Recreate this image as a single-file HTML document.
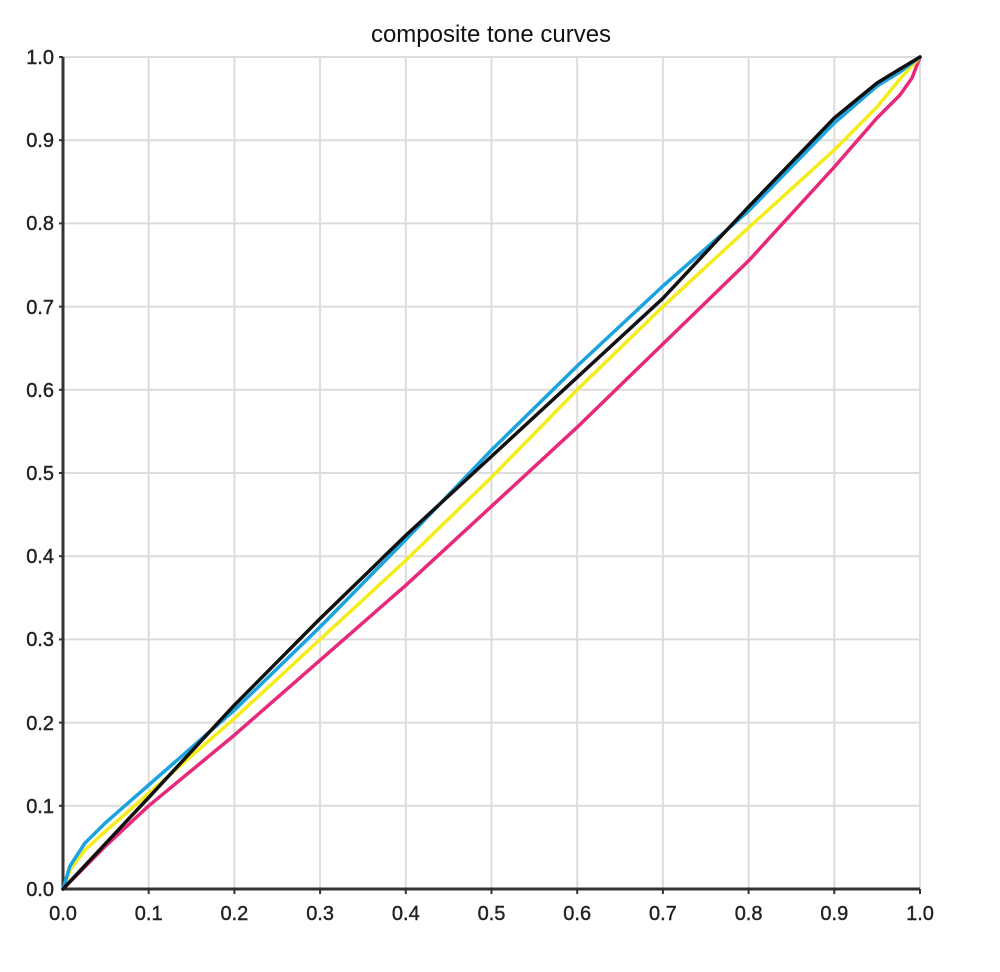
<!DOCTYPE html>
<html><head><meta charset="utf-8"><style>
html,body{margin:0;padding:0;background:#fff;}
svg{display:block;font-family:"Liberation Sans",Arial,sans-serif;}
</style></head><body>
<svg width="1000" height="972" viewBox="0 0 1000 972">
<rect width="1000" height="972" fill="#fff"/>
<text x="491" y="42" font-size="24" text-anchor="middle" fill="#111">composite tone curves</text>
<g stroke="#dcdcdc" stroke-width="2">
<line x1="148.7" y1="57" x2="148.7" y2="889"/><line x1="234.4" y1="57" x2="234.4" y2="889"/>
<line x1="320.1" y1="57" x2="320.1" y2="889"/><line x1="405.8" y1="57" x2="405.8" y2="889"/>
<line x1="491.5" y1="57" x2="491.5" y2="889"/><line x1="577.2" y1="57" x2="577.2" y2="889"/>
<line x1="662.9" y1="57" x2="662.9" y2="889"/><line x1="748.6" y1="57" x2="748.6" y2="889"/>
<line x1="834.3" y1="57" x2="834.3" y2="889"/><line x1="920" y1="57" x2="920" y2="889"/>
<line x1="63" y1="57" x2="920" y2="57"/><line x1="63" y1="140.2" x2="920" y2="140.2"/>
<line x1="63" y1="223.4" x2="920" y2="223.4"/><line x1="63" y1="306.6" x2="920" y2="306.6"/>
<line x1="63" y1="389.8" x2="920" y2="389.8"/><line x1="63" y1="473" x2="920" y2="473"/>
<line x1="63" y1="556.2" x2="920" y2="556.2"/><line x1="63" y1="639.4" x2="920" y2="639.4"/>
<line x1="63" y1="722.6" x2="920" y2="722.6"/><line x1="63" y1="805.8" x2="920" y2="805.8"/>
</g>
<g stroke="#333" stroke-width="3">
<line x1="63" y1="57" x2="63" y2="890"/><line x1="62" y1="889" x2="920" y2="889"/>
</g>
<g stroke="#333" stroke-width="2">
<line x1="59" y1="57" x2="63" y2="57"/><line x1="59" y1="140.2" x2="63" y2="140.2"/><line x1="59" y1="223.4" x2="63" y2="223.4"/><line x1="59" y1="306.6" x2="63" y2="306.6"/><line x1="59" y1="389.8" x2="63" y2="389.8"/><line x1="59" y1="473" x2="63" y2="473"/><line x1="59" y1="556.2" x2="63" y2="556.2"/><line x1="59" y1="639.4" x2="63" y2="639.4"/><line x1="59" y1="722.6" x2="63" y2="722.6"/><line x1="59" y1="805.8" x2="63" y2="805.8"/>
<line x1="148.7" y1="889" x2="148.7" y2="894"/><line x1="234.4" y1="889" x2="234.4" y2="894"/><line x1="320.1" y1="889" x2="320.1" y2="894"/><line x1="405.8" y1="889" x2="405.8" y2="894"/><line x1="491.5" y1="889" x2="491.5" y2="894"/><line x1="577.2" y1="889" x2="577.2" y2="894"/><line x1="662.9" y1="889" x2="662.9" y2="894"/><line x1="748.6" y1="889" x2="748.6" y2="894"/><line x1="834.3" y1="889" x2="834.3" y2="894"/><line x1="920" y1="889" x2="920" y2="894"/>
</g>
<g font-size="20" fill="#222" text-anchor="end" stroke="#222" stroke-width="0.4">
<text x="54" y="64">1.0</text><text x="54" y="147">0.9</text><text x="54" y="230">0.8</text><text x="54" y="314">0.7</text><text x="54" y="397">0.6</text><text x="54" y="480">0.5</text><text x="54" y="563">0.4</text><text x="54" y="646">0.3</text><text x="54" y="730">0.2</text><text x="54" y="813">0.1</text><text x="54" y="896">0.0</text>
</g>
<g font-size="20" fill="#222" text-anchor="middle" stroke="#222" stroke-width="0.4">
<text x="63" y="920">0.0</text><text x="148.7" y="920">0.1</text><text x="234.4" y="920">0.2</text><text x="320.1" y="920">0.3</text><text x="405.8" y="920">0.4</text><text x="491.5" y="920">0.5</text><text x="577.2" y="920">0.6</text><text x="662.9" y="920">0.7</text><text x="748.6" y="920">0.8</text><text x="834.3" y="920">0.9</text><text x="920" y="920">1.0</text>
</g>
<g fill="none" stroke-width="3.5" stroke-linejoin="round" stroke-linecap="round">
<polyline stroke="#e8287a" points="63,889 105.9,845.7 148.7,805.8 234.4,735.1 320.1,660.2 405.8,585.3 491.5,506.3 577.2,427.2 662.9,344 748.6,260.8 834.3,167 877,118 900,95 912,78 920,57"/>
<polyline stroke="#f5ec1a" points="63,889 70,870 85,850 105.9,830.8 148.7,793.3 234.4,718.4 320.1,639.4 405.8,560.4 491.5,477.2 577.2,389.8 662.9,306.6 748.6,227.6 834.3,150 877,107 900,79 920,57"/>
<polyline stroke="#1aa3df" points="63,889 70,866 85,843 105.9,822.4 148.7,785 234.4,710.1 320.1,626.9 405.8,539.6 491.5,450 577.2,366 662.9,286 748.6,210.9 834.3,123 877,86 900,72 920,57"/>
<polyline stroke="#111" points="63,889 105.9,843.2 148.7,797.5 234.4,705.1 320.1,618.6 405.8,535.4 491.5,456.4 577.2,377.3 662.9,298.3 748.6,206.8 834.3,118 877,83 900,69 920,57"/>
</g>
</svg>
</body></html>
